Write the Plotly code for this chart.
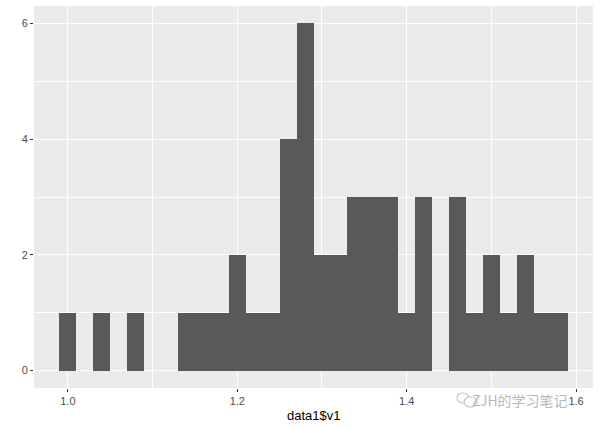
import plotly.graph_objects as go

# histogram of data1$v1 (30 bins, as ggplot drew it)
BIN_CENTERS = [1.00, 1.02, 1.04, 1.06, 1.08, 1.10, 1.12, 1.14, 1.16, 1.18,
               1.20, 1.22, 1.24, 1.26, 1.28, 1.30, 1.32, 1.34, 1.36, 1.38,
               1.40, 1.42, 1.44, 1.46, 1.48, 1.50, 1.52, 1.54, 1.56, 1.58]
COUNTS = [1, 0, 1, 0, 1, 0, 0, 1, 1, 1,
          2, 1, 1, 4, 6, 2, 2, 3, 3, 3,
          1, 3, 0, 3, 1, 2, 1, 2, 1, 1]
BIN_WIDTH = 0.02

X_TICKS = [1.0, 1.2, 1.4, 1.6]
X_MINOR = [1.1, 1.3, 1.5]
Y_TICKS = [0, 2, 4, 6]
Y_MINOR = [1, 3, 5]

fig = go.Figure()
fig.add_trace(
    go.Bar(
        x=BIN_CENTERS,
        y=COUNTS,
        width=BIN_WIDTH,
        marker={"color": "#595959", "line": {"width": 0}},
        showlegend=False,
    )
)

axis_common = {
    "ticks": "outside",
    "ticklen": 3,
    "tickcolor": "#333333",
    "tickwidth": 1,
    "showgrid": True,
    "gridcolor": "#ffffff",
    "gridwidth": 1.1,
    "zeroline": False,
    "showline": False,
    "automargin": False,
}

fig.update_layout(
    width=600,
    height=428,
    margin={"l": 34, "r": 7, "t": 6, "b": 40},
    paper_bgcolor="#ffffff",
    plot_bgcolor="#ebebeb",
    bargap=0,
    font={"family": "Liberation Sans, Arial, sans-serif", "size": 11, "color": "#4d4d4d"},
    xaxis={
        **axis_common,
        "range": [0.96, 1.62],
        "tickvals": X_TICKS,
        "ticktext": ["1.0", "1.2", "1.4", "1.6"],
        "minor": {"tickvals": X_MINOR, "showgrid": True, "gridcolor": "#ffffff",
                  "gridwidth": 0.5, "ticklen": 0},
    },
    yaxis={
        **axis_common,
        "range": [-0.3, 6.3],
        "tickvals": Y_TICKS,
        "minor": {"tickvals": Y_MINOR, "showgrid": True, "gridcolor": "#ffffff",
                  "gridwidth": 0.5, "ticklen": 0},
    },
)

# x axis title
fig.add_annotation(
    text="data1$v1",
    xref="paper", yref="paper",
    x=0.5, y=-27 / 382,
    xanchor="center", yanchor="middle",
    showarrow=False,
    font={"size": 13, "color": "#000000"},
)

# watermark
fig.add_annotation(
    text="ZJH的学习笔记",
    xref="paper", yref="paper",
    x=(570 - 34) / 559, y=-12 / 382,
    xanchor="right", yanchor="middle",
    showarrow=False,
    font={"family": "Noto Sans CJK SC, sans-serif", "size": 14, "color": "#b8b8b8"},
)
fig.add_shape(type="circle", xref="paper", yref="paper",
              x0=(457 - 34) / 559, x1=(469 - 34) / 559,
              y0=-15 / 382, y1=-5 / 382,
              line={"color": "#c4c4c4", "width": 1.2})
fig.add_shape(type="circle", xref="paper", yref="paper",
              x0=(464 - 34) / 559, x1=(477 - 34) / 559,
              y0=-19 / 382, y1=-9 / 382,
              fillcolor="#ffffff",
              line={"color": "#c4c4c4", "width": 1.2})

fig.write_html(
    "out.html",
    config={"displayModeBar": False},
    post_script="document.body.style.margin = '0';",
)
